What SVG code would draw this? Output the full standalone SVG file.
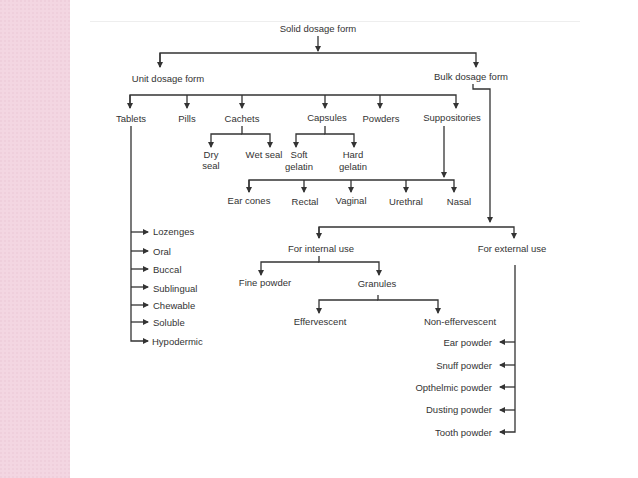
<svg xmlns="http://www.w3.org/2000/svg" width="638" height="478" viewBox="0 0 638 478">
<defs>
<pattern id="dots" width="4" height="4" patternUnits="userSpaceOnUse"><rect width="4" height="4" fill="#f3d6e2"/><circle cx="1" cy="1" r="0.7" fill="#e9c3d3"/></pattern>
<marker id="a" markerWidth="6" markerHeight="8" refX="5" refY="4" orient="auto" markerUnits="userSpaceOnUse"><path d="M0,1 L6,4 L0,7 z" fill="#333"/></marker>
</defs>
<style>
text{font-family:"Liberation Sans",Arial,sans-serif;font-size:9.5px;fill:#333}
.m{text-anchor:middle}.e{text-anchor:end}
.c path{fill:none;stroke:#333;stroke-width:1.3}
</style>
<rect width="638" height="478" fill="#fff"/>
<rect width="70" height="478" fill="url(#dots)"/>
<line x1="90" y1="21.5" x2="580" y2="21.5" stroke="#eee" stroke-width="1"/>
<g class="c" id="connectors">
<path d="M318,36V51" marker-end="url(#a)"/>
<path d="M160,67V53H476V67" marker-end="url(#a)"/>
<path d="M160,53V67" marker-end="url(#a)"/>
<path d="M130,108V95H456V108" marker-end="url(#a)"/>
<path d="M130,95V108" marker-end="url(#a)"/>
<path d="M187,95V108" marker-end="url(#a)"/>
<path d="M242,95V108" marker-end="url(#a)"/>
<path d="M325,95V108" marker-end="url(#a)"/>
<path d="M380,95V108" marker-end="url(#a)"/>
<path d="M242,126V134H270V147" marker-end="url(#a)"/>
<path d="M242,134H211V147" marker-end="url(#a)"/>
<path d="M325,126V134H354V147" marker-end="url(#a)"/>
<path d="M325,134H296V147" marker-end="url(#a)"/>
<path d="M444,126V177" marker-end="url(#a)"/>
<path d="M249,192V180H454V192" marker-end="url(#a)"/>
<path d="M249,180V192" marker-end="url(#a)"/>
<path d="M304,180V192" marker-end="url(#a)"/>
<path d="M351,180V192" marker-end="url(#a)"/>
<path d="M406,180V192" marker-end="url(#a)"/>
<path d="M473,84V89H490V222" marker-end="url(#a)"/>
<path d="M319,238V227H514V238" marker-end="url(#a)"/>
<path d="M319,227V238" marker-end="url(#a)"/>
<path d="M319,256V262H379V275" marker-end="url(#a)"/>
<path d="M319,262H261V275" marker-end="url(#a)"/>
<path d="M378,295V300H438V313" marker-end="url(#a)"/>
<path d="M378,300H319V313" marker-end="url(#a)"/>
<path d="M131,126V341H148" marker-end="url(#a)"/>
<path d="M131,232H148" marker-end="url(#a)"/>
<path d="M131,251H148" marker-end="url(#a)"/>
<path d="M131,269H148" marker-end="url(#a)"/>
<path d="M131,287H148" marker-end="url(#a)"/>
<path d="M131,305H148" marker-end="url(#a)"/>
<path d="M131,322H148" marker-end="url(#a)"/>
<path d="M515,265V432H500" marker-end="url(#a)"/>
<path d="M515,342H500" marker-end="url(#a)"/>
<path d="M515,365H500" marker-end="url(#a)"/>
<path d="M515,387H500" marker-end="url(#a)"/>
<path d="M515,410H500" marker-end="url(#a)"/>
</g>
<g id="solid"><text class="m" x="318" y="32">Solid dosage form</text></g>
<g id="unit"><text class="m" x="168" y="82">Unit dosage form</text></g>
<g id="bulk"><text class="m" x="471" y="80">Bulk dosage form</text></g>
<g id="tablets"><text class="m" x="131" y="122">Tablets</text></g>
<g id="pills"><text class="m" x="187" y="122">Pills</text></g>
<g id="cachets"><text class="m" x="242" y="122">Cachets</text></g>
<g id="capsules"><text class="m" x="327" y="121">Capsules</text></g>
<g id="powders"><text class="m" x="381" y="122">Powders</text></g>
<g id="supp"><text class="m" x="452" y="121">Suppositories</text></g>
<g id="dry"><text class="m" x="211" y="158">Dry</text><text class="m" x="211" y="169">seal</text></g>
<g id="wet"><text class="m" x="264" y="158">Wet seal</text></g>
<g id="soft"><text class="m" x="299" y="158">Soft</text><text class="m" x="299" y="170">gelatin</text></g>
<g id="hard"><text class="m" x="353" y="158">Hard</text><text class="m" x="353" y="170">gelatin</text></g>
<g id="ear"><text class="m" x="249" y="204">Ear cones</text></g>
<g id="rectal"><text class="m" x="305" y="205">Rectal</text></g>
<g id="vaginal"><text class="m" x="351" y="204">Vaginal</text></g>
<g id="urethral"><text class="m" x="406" y="205">Urethral</text></g>
<g id="nasal"><text class="m" x="459" y="205">Nasal</text></g>
<g id="loz"><text x="153" y="235">Lozenges</text></g>
<g id="oral"><text x="153" y="255">Oral</text></g>
<g id="buccal"><text x="153" y="273">Buccal</text></g>
<g id="subl"><text x="153" y="292">Sublingual</text></g>
<g id="chew"><text x="153" y="309">Chewable</text></g>
<g id="sol"><text x="153" y="326">Soluble</text></g>
<g id="hypo"><text x="152" y="345">Hypodermic</text></g>
<g id="internal"><text class="m" x="321" y="252">For internal use</text></g>
<g id="external"><text class="m" x="512" y="252">For external use</text></g>
<g id="fine"><text class="m" x="265" y="286">Fine powder</text></g>
<g id="gran"><text class="m" x="377" y="287">Granules</text></g>
<g id="eff"><text class="m" x="320" y="325">Effervescent</text></g>
<g id="noneff"><text class="m" x="460" y="325">Non-effervescent</text></g>
<g id="earp"><text class="e" x="492" y="346">Ear powder</text></g>
<g id="snuff"><text class="e" x="492" y="369">Snuff powder</text></g>
<g id="opth"><text class="e" x="492" y="391">Opthelmic powder</text></g>
<g id="dust"><text class="e" x="492" y="413">Dusting powder</text></g>
<g id="tooth"><text class="e" x="492" y="436">Tooth powder</text></g>
</svg>
